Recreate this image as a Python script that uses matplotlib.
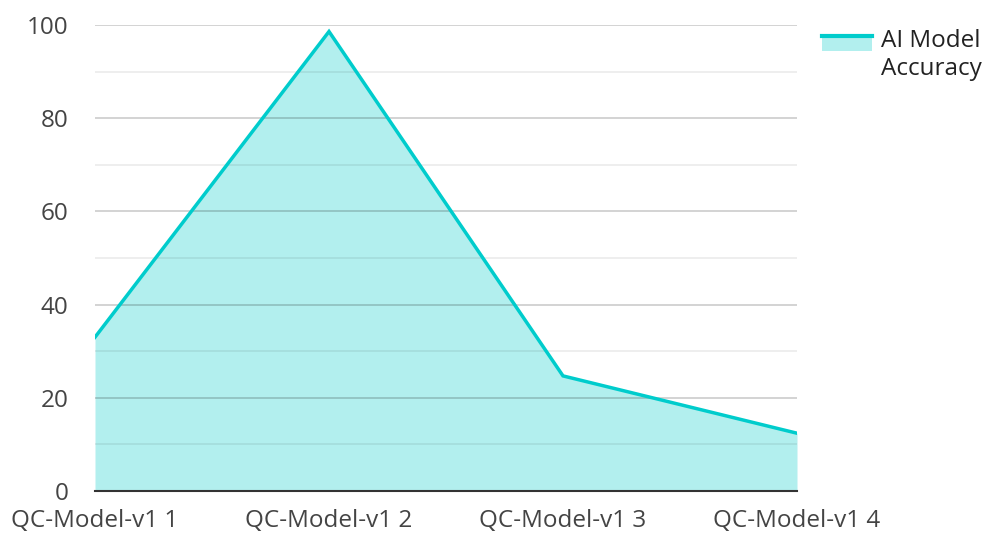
import matplotlib
matplotlib.use("Agg")
import matplotlib.pyplot as plt
from matplotlib.legend_handler import HandlerBase
from matplotlib.patches import Rectangle
from matplotlib.lines import Line2D

plt.rcParams['font.family'] = ['Open Sans', 'DejaVu Sans']

categories = ["QC-Model-v1 1", "QC-Model-v1 2", "QC-Model-v1 3", "QC-Model-v1 4"]
accuracy = [33.0, 98.6, 24.7, 12.4]
series_name = "AI Model\nAccuracy"

line_color = "#00cccc"
fill_color = "#b2efee"
text_color = "#444444"
fs = 17.5

fig = plt.figure(figsize=(9.87, 5.33), dpi=100)
ax = fig.add_axes([95/987, 42/533, (797-95)/987, (491-25)/533])

x = list(range(len(categories)))
ax.fill_between(x, 0, accuracy, color=fill_color, linewidth=0, zorder=1)
ax.plot(x, accuracy, color=line_color, linewidth=2.5, zorder=3, solid_joinstyle='miter')

ax.set_xlim(0, len(categories) - 1)
ax.set_ylim(0, 100)
ax.set_yticks([0, 20, 40, 60, 80, 100])
ax.set_yticks([10, 30, 50, 70, 90], minor=True)
ax.set_xticks(x)
ax.set_xticklabels(categories)
ax.set_axisbelow(False)
ax.grid(axis='y', which='major', color='#000000', alpha=0.2, linewidth=1.2, zorder=2)
ax.grid(axis='y', which='minor', color='#000000', alpha=0.08, linewidth=1.2, zorder=2)
ax.tick_params(axis='both', which='both', length=0, labelsize=fs, labelcolor=text_color)
ax.tick_params(axis='y', pad=19)
ax.tick_params(axis='x', pad=13)
for s in ['left', 'right', 'top']:
    ax.spines[s].set_visible(False)
ax.spines['bottom'].set_color('#333333')
ax.spines['bottom'].set_linewidth(1.5)
ax.spines['bottom'].set_zorder(4)


class AreaHandler(HandlerBase):
    def create_artists(self, legend, orig_handle, xdescent, ydescent, width, height, fontsize, trans):
        lift = 8.6
        y0 = -ydescent + lift
        rect = Rectangle((-xdescent, y0), width, height,
                         facecolor=fill_color, edgecolor='none', transform=trans)
        ln = Line2D([-xdescent, -xdescent + width], [y0 + height] * 2,
                    color=line_color, linewidth=3, transform=trans)
        return [rect, ln]


handle = Rectangle((0, 0), 1, 1)
leg = fig.legend([handle], [series_name], handler_map={Rectangle: AreaHandler()},
                 loc='upper left', bbox_to_anchor=(822/987, 1 - 29/533),
                 frameon=False, fontsize=fs, handlelength=2.05, handleheight=0.55,
                 handletextpad=0.37, borderpad=0, borderaxespad=0,
                 labelcolor='#222222')

fig.savefig("out.png", dpi=100)
